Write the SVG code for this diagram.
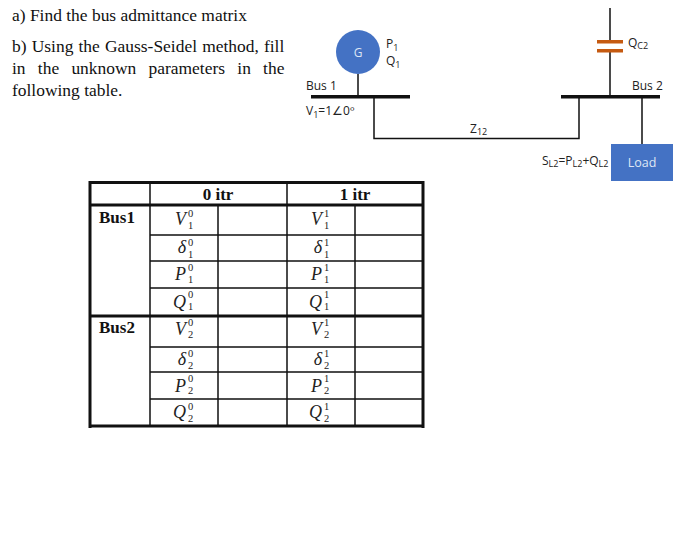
<svg xmlns="http://www.w3.org/2000/svg" width="700" height="534" viewBox="0 0 700 534">
<style>
.t{font-family:"Liberation Serif",serif;font-size:17.450px;fill:#111}
.c{font-family:"Open Sans","Liberation Sans",sans-serif;font-size:12px;fill:#222}
.s{font-size:9px}
.w{stroke:#111;fill:none}
.n{stroke-width:1.5}
.b{stroke-width:3}
.m{font-family:"Liberation Serif",serif;font-style:italic;font-size:18px;fill:#222;text-anchor:end}
.i{font-family:"Liberation Serif",serif;font-size:10.500px;fill:#222}
.h{font-family:"Liberation Serif",serif;font-weight:bold;font-size:17px;fill:#111}
</style>
<rect width="700" height="534" fill="#fff"/>
<g id="question">
<text class="t" x="12" y="21">a) Find the bus admittance matrix</text>
<text class="t" x="12" y="52" word-spacing="0.800">b) Using the Gauss-Seidel method, fill</text>
<text class="t" x="12" y="74" word-spacing="7.900">in the unknown parameters in the</text>
<text class="t" x="12" y="96">following table.</text>
</g>
<g id="connectors" fill="none" stroke="#111">
<path d="M358 74V97M610 8V41M610 51V97M642 97V144" stroke-width="1.5"/>
<path d="M374 97V138.500H579V97" stroke-width="1.500"/>
</g>
<g id="generator">
<circle cx="358" cy="52" r="22" fill="#4472c4"/>
<text x="358" y="57" text-anchor="middle" font-family="Open Sans,Liberation Sans,sans-serif" font-size="12" fill="#dfe6f5">G</text>
<text class="c" x="386" y="48">P<tspan class="s" dy="3">1</tspan></text>
<text class="c" x="386" y="65">Q<tspan class="s" dy="3">1</tspan></text>
</g>
<g id="bus1">
<rect x="311" y="95" width="99" height="3.500" fill="#111"/>
<text class="c" x="306" y="90">Bus 1</text>
<text class="c" x="306" y="115">V<tspan class="s" dy="3">1</tspan><tspan dy="-3">=1∠0º</tspan></text>
</g>
<g id="bus2">
<rect x="561" y="95" width="99" height="3.500" fill="#111"/>
<text class="c" x="632" y="90">Bus 2</text>
</g>
<g id="capacitor">
<rect x="597" y="40" width="26" height="3.500" fill="#c55a11"/>
<rect x="597" y="49" width="26" height="3.500" fill="#c55a11"/>
<text class="c" x="628" y="47">Q<tspan class="s" dy="2">C2</tspan></text>
</g>
<g id="line-label">
<text class="c" x="470" y="133">Z<tspan class="s" dy="2">12</tspan></text>
</g>
<g id="load">
<rect x="611" y="144" width="62" height="37" fill="#4472c4"/>
<text x="642" y="167" text-anchor="middle" font-family="Open Sans,Liberation Sans,sans-serif" font-size="12.500" fill="#dfe6f5">Load</text>
<text class="c" x="542" y="165">S<tspan class="s" dy="2">L2</tspan><tspan dy="-2">=P</tspan><tspan class="s" dy="2">L2</tspan><tspan dy="-2">+Q</tspan><tspan class="s" dy="2">L2</tspan></text>
</g>
<g id="table">
<path class="w n" d="M150 182V426M287 182V426M218 205V426M355 205V426M150 235H423M150 261H423M150 288H423M150 347H423M150 372H423M150 399H423"/>
<path class="w b" d="M90 182.500H423M90 205H423M90 316H423M90 426H423M90 181V428M423 181V428"/>
<text class="h" x="218" y="200" text-anchor="middle">0 itr</text>
<text class="h" x="355" y="200" text-anchor="middle">1 itr</text>
<text class="h" x="99" y="223">Bus1</text>
<text class="h" x="99" y="333">Bus2</text>

<text class="m" x="186" y="225">V</text><text class="i" x="188" y="217">0</text><text class="i" x="188" y="229">1</text>
<text class="m" x="186" y="253">δ</text><text class="i" x="188" y="246">0</text><text class="i" x="188" y="258">1</text>
<text class="m" x="186" y="280">P</text><text class="i" x="188" y="271">0</text><text class="i" x="188" y="283">1</text>
<text class="m" x="186" y="308">Q</text><text class="i" x="188" y="298">0</text><text class="i" x="188" y="310">1</text>
<text class="m" x="186" y="335">V</text><text class="i" x="188" y="326">0</text><text class="i" x="188" y="338">2</text>
<text class="m" x="186" y="365">δ</text><text class="i" x="188" y="357">0</text><text class="i" x="188" y="369">2</text>
<text class="m" x="186" y="392">P</text><text class="i" x="188" y="382">0</text><text class="i" x="188" y="394">2</text>
<text class="m" x="186" y="418">Q</text><text class="i" x="188" y="410">0</text><text class="i" x="188" y="422">2</text>

<text class="m" x="322" y="225">V</text><text class="i" x="324" y="217">1</text><text class="i" x="324" y="229">1</text>
<text class="m" x="322" y="253">δ</text><text class="i" x="324" y="246">1</text><text class="i" x="324" y="258">1</text>
<text class="m" x="322" y="280">P</text><text class="i" x="324" y="271">1</text><text class="i" x="324" y="283">1</text>
<text class="m" x="322" y="308">Q</text><text class="i" x="324" y="298">1</text><text class="i" x="324" y="310">1</text>
<text class="m" x="322" y="335">V</text><text class="i" x="324" y="326">1</text><text class="i" x="324" y="338">2</text>
<text class="m" x="322" y="365">δ</text><text class="i" x="324" y="357">1</text><text class="i" x="324" y="369">2</text>
<text class="m" x="322" y="392">P</text><text class="i" x="324" y="382">1</text><text class="i" x="324" y="394">2</text>
<text class="m" x="322" y="418">Q</text><text class="i" x="324" y="410">1</text><text class="i" x="324" y="422">2</text>
</g>
</svg>
